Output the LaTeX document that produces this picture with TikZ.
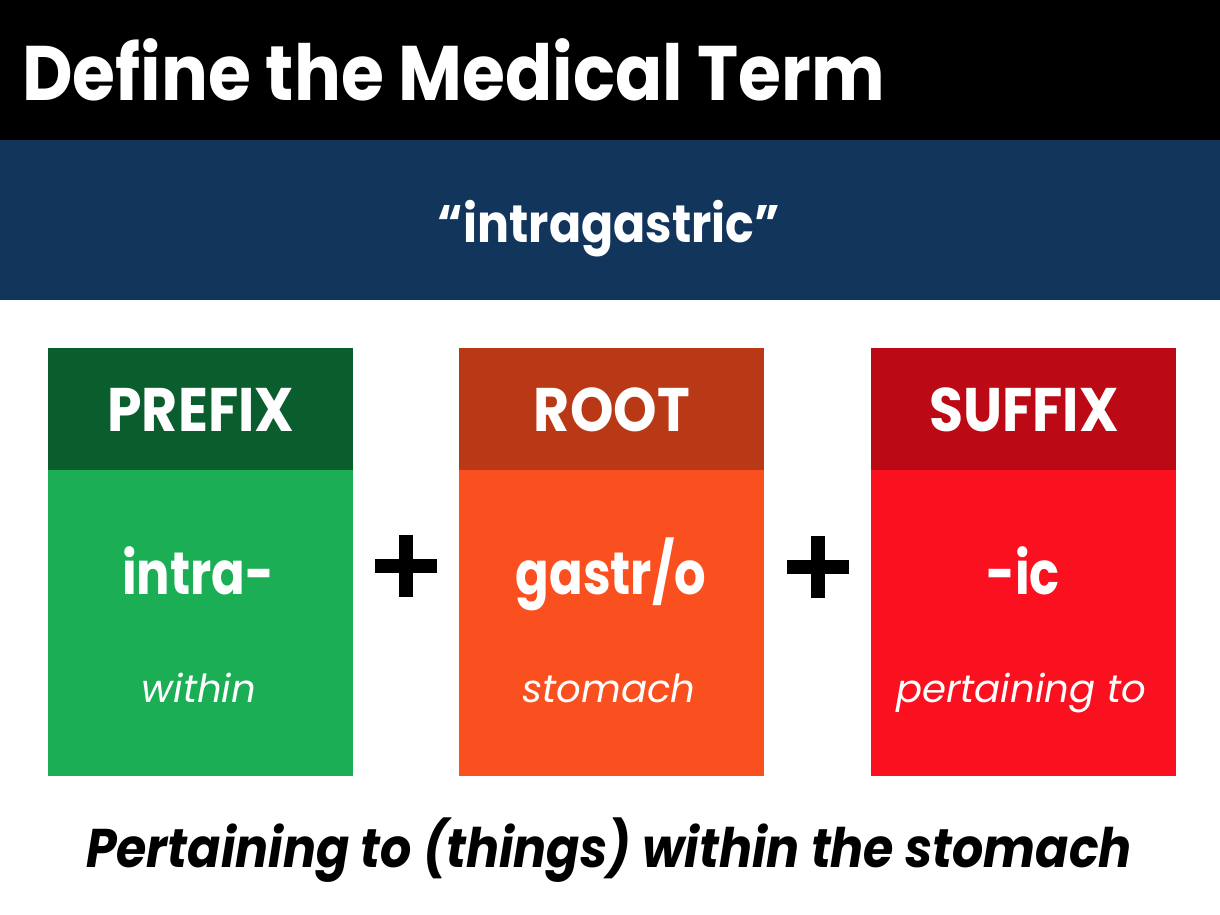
\documentclass[tikz,border=0pt]{standalone}
\usepackage{fontspec}
\setmainfont{Poppins}
\newfontfamily\narrowfont{Poppins}[FakeStretch=0.9]
\newfontfamily\termfont{Poppins}[FakeStretch=0.83]
\usetikzlibrary{positioning}
\definecolor{bandnavy}{HTML}{12355B}
\definecolor{prefixdark}{HTML}{0A5E2E}
\definecolor{prefixfill}{HTML}{1BAE55}
\definecolor{rootdark}{HTML}{B93917}
\definecolor{rootfill}{HTML}{FA4F1F}
\definecolor{suffixdark}{HTML}{BC0916}
\definecolor{suffixfill}{HTML}{FA101E}

\begin{document}
\begin{tikzpicture}[x=0.02cm,y=-0.02cm,
	head/.style={rectangle, anchor=north west, minimum width=6.1cm, minimum height=2.45cm, inner sep=0pt, text=white, font=\narrowfont\fontsize{35}{40}\selectfont\bfseries},
	part/.style={rectangle, minimum width=6.1cm, minimum height=6.12cm, inner sep=0pt, below=-0.6pt of #1},
	term/.style={anchor=base, inner sep=0pt, text=white, font=\termfont\fontsize{34}{40}\selectfont\bfseries},
	gloss/.style={anchor=base, inner sep=0pt, text=white, font=\fontsize{22}{26}\selectfont\itshape},
	plusmark/.style={rectangle, minimum size=1.24cm, inner sep=0pt},
	plusbar/.style={line width=0.29cm}]
\useasboundingbox (0,0) rectangle (1220,914);
\fill[white] (0,0) rectangle (1220,914);

% bands at the top
\fill[black] (0,0) rectangle (1220,140);
\fill[bandnavy] (0,140) rectangle (1220,300);
\node[anchor=base west, inner sep=0pt, text=white, font=\narrowfont\fontsize{44}{50}\selectfont\bfseries] (title) at (22,100) {Define the Medical Term};
\node[anchor=base, inner sep=0pt, text=white, font=\narrowfont\fontsize{30}{36}\selectfont\bfseries] (word) at (609,242) {“intragastric”};

% the three parts
\node[head, fill=prefixdark] (prefixhead) at (48,348) {PREFIX};
\node[part=prefixhead, fill=prefixfill] (prefixbody) {};
\node[head, fill=rootdark] (roothead) at (459,348) {ROOT};
\node[part=roothead, fill=rootfill] (rootbody) {};
\node[head, fill=suffixdark] (suffixhead) at (871,348) {SUFFIX};
\node[part=suffixhead, fill=suffixfill] (suffixbody) {};

\node[term] (prefixterm) at (198,594) {intra-};
\node[gloss] (prefixgloss) at (199,702) {within};
\node[term] (rootterm) at (611,594) {gastr/o};
\node[gloss] (rootgloss) at (609,702) {stomach};
\node[term] (suffixterm) at (1023,594) {-ic};
\node[gloss] (suffixgloss) at (1021,702) {pertaining to};

% plus signs
\node[plusmark] (plus1) at (406,566) {};
\draw[plusbar] (plus1.west) -- (plus1.east);
\draw[plusbar] (plus1.north) -- (plus1.south);
\node[plusmark] (plus2) at (818,567) {};
\draw[plusbar] (plus2.west) -- (plus2.east);
\draw[plusbar] (plus2.north) -- (plus2.south);

\node[anchor=base, inner sep=0pt, font=\narrowfont\fontsize{31}{36}\selectfont\bfseries\itshape] (meaning) at (609,867) {Pertaining to (things) within the stomach};
\end{tikzpicture}
\end{document}
